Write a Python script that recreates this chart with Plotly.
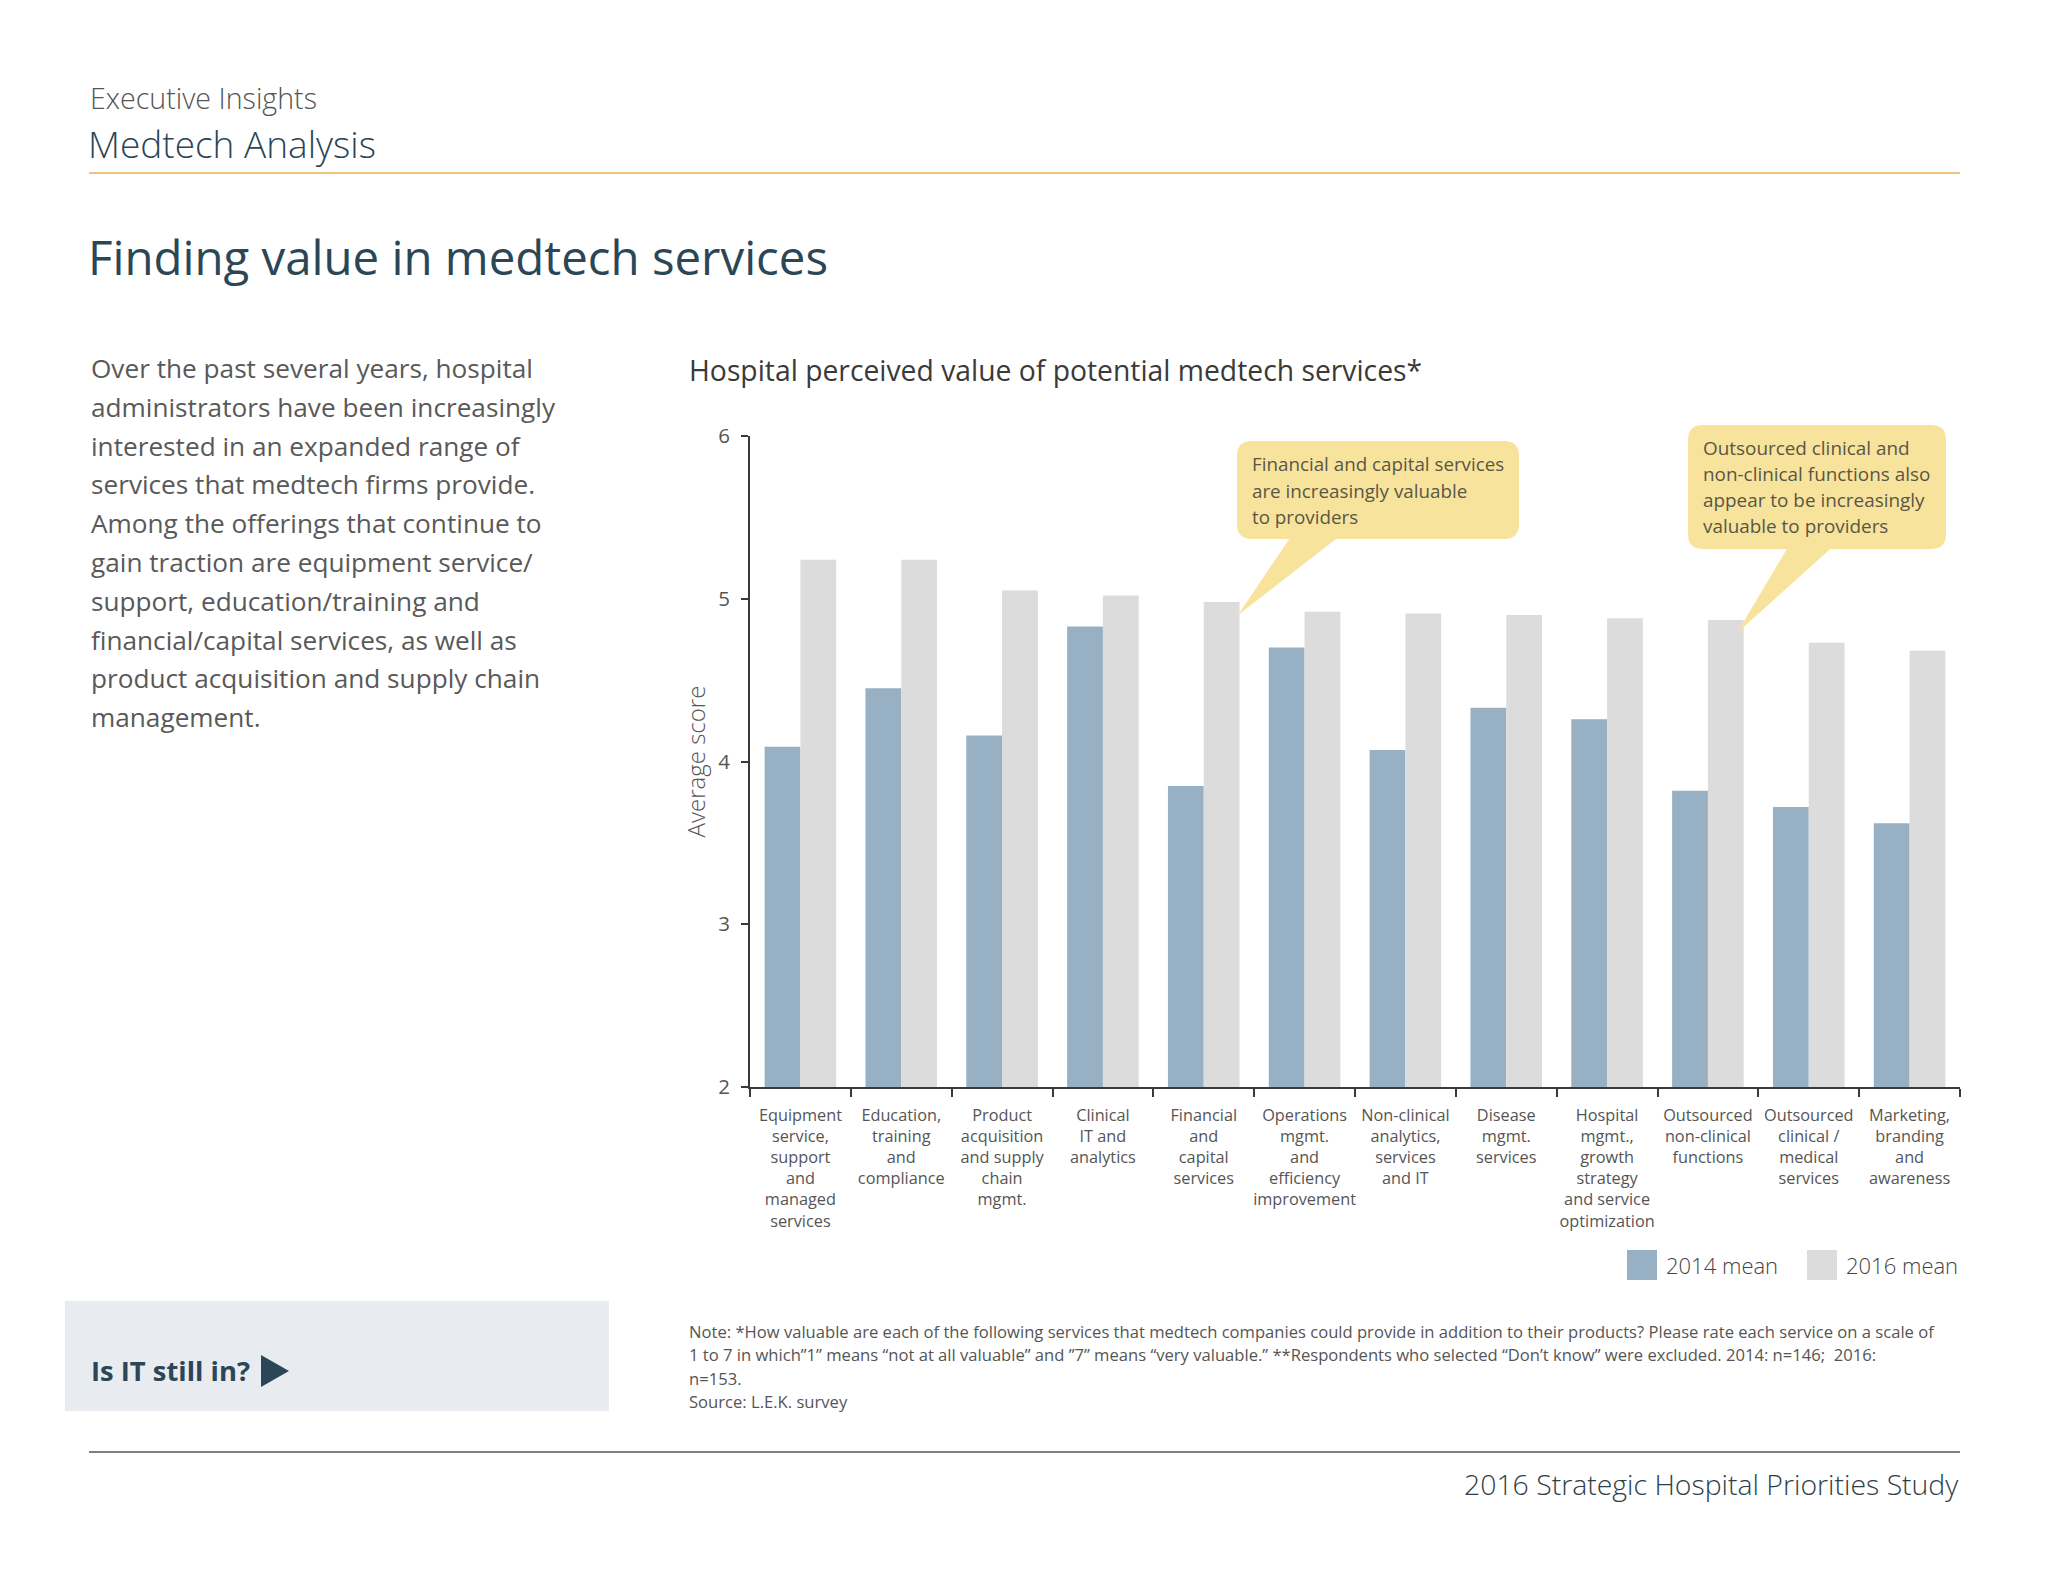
import plotly.graph_objects as go

# ---------------- data ----------------
categories = [
    "Equipment<br>service,<br>support<br>and<br>managed<br>services",
    "Education,<br>training<br>and<br>compliance",
    "Product<br>acquisition<br>and supply<br>chain<br>mgmt.",
    "Clinical<br>IT and<br>analytics",
    "Financial<br>and<br>capital<br>services",
    "Operations<br>mgmt.<br>and<br>efficiency<br>improvement",
    "Non-clinical<br>analytics,<br>services<br>and IT",
    "Disease<br>mgmt.<br>services",
    "Hospital<br>mgmt.,<br>growth<br>strategy<br>and service<br>optimization",
    "Outsourced<br>non-clinical<br>functions",
    "Outsourced<br>clinical /<br>medical<br>services",
    "Marketing,<br>branding<br>and<br>awareness",
]
mean_2014 = [4.09, 4.45, 4.16, 4.83, 3.85, 4.70, 4.07, 4.33, 4.26, 3.82, 3.72, 3.62]
mean_2016 = [5.24, 5.24, 5.05, 5.02, 4.98, 4.92, 4.91, 4.90, 4.88, 4.87, 4.73, 4.68]
series_names = ["2014 mean", "2016 mean"]
y_ticks = [2, 3, 4, 5, 6]

body_lines = [
    "Over the past several years, hospital",
    "administrators have been increasingly",
    "interested in an expanded range of",
    "services that medtech firms provide.",
    "Among the offerings that continue to",
    "gain traction are equipment service/",
    "support, education/training and",
    "financial/capital services, as well as",
    "product acquisition and supply chain",
    "management.",
]
callout1_lines = ["Financial and capital services", "are increasingly valuable", "to providers"]
callout2_lines = ["Outsourced clinical and", "non-clinical functions also",
                  "appear to be increasingly", "valuable to providers"]
note_lines = [
    "Note: *How valuable are each of the following services that medtech companies could provide in addition to their products? Please rate each service on a scale of",
    "1 to 7 in which\u201d1\u201d means \u201cnot at all valuable\u201d and \u201d7\u201d means \u201cvery valuable.\u201d **Respondents who selected \u201cDon\u2019t know\u201d were excluded. 2014: n=146;  2016:",
    "n=153.",
    "Source: L.E.K. survey",
]

# ---------------- style ----------------
OFF = 8                                   # page body margin
W, H = 2048 - OFF, 1582 - OFF
X0, X1, YT, YB = 750, 1960, 436, 1087     # plot area in page pixels
C2014 = "#97b0c3"
C2016 = "#dddcdd"
SLATE = "#2b4656"
GREY = "#555555"
CALLOUT = "#f7e39c"
FONT = "Open Sans"


def px(x):
    return (x - X0) / (X1 - X0)


def py(y):
    return (YB - y) / (YB - YT)


fig = go.Figure()
fig.add_trace(go.Bar(x=categories, y=mean_2014, name=series_names[0],
                     marker=dict(color=C2014, line=dict(width=0)), showlegend=False))
fig.add_trace(go.Bar(x=categories, y=mean_2016, name=series_names[1],
                     marker=dict(color=C2016, line=dict(width=0)), showlegend=False))

annotations = []
shapes = []


def text(x, y, s, size, color=GREY, xanchor="left", yanchor="middle", weight=400, family=FONT):
    annotations.append(dict(x=px(x), y=py(y), xref="paper", yref="paper", text=s,
                            showarrow=False, xanchor=xanchor, yanchor=yanchor,
                            font=dict(size=size, color=color, family=family, weight=weight),
                            borderpad=0))


# header
text(89, 98, "Executive Insights", 28.6, color="#555555", weight=300)
text(87, 143, "Medtech Analysis", 37, color=SLATE, weight=300)
shapes.append(dict(type="line", xref="paper", yref="paper", x0=px(89), x1=px(1960),
                   y0=py(173), y1=py(173), line=dict(color="#f0c27c", width=2)))
text(87, 256, "Finding value in medtech services", 47.4, color=SLATE, weight=400)

# body
for i, line in enumerate(body_lines):
    text(90, 368 + i * 38.8, line, 26.2, color="#595959", weight=400)

# chart title
text(688, 370, "Hospital perceived value of potential medtech services*", 28.3, color="#3a3a3a", weight=500)


# callouts
def rrect_path(x0, y0, x1, y1, r):
    pts = [
        ("M", [(x0 + r, y0)]),
        ("L", [(x1 - r, y0)]), ("Q", [(x1, y0), (x1, y0 + r)]),
        ("L", [(x1, y1 - r)]), ("Q", [(x1, y1), (x1 - r, y1)]),
        ("L", [(x0 + r, y1)]), ("Q", [(x0, y1), (x0, y1 - r)]),
        ("L", [(x0, y0 + r)]), ("Q", [(x0, y0), (x0 + r, y0)]),
    ]
    s = ""
    for cmd, p in pts:
        s += cmd + " ".join(f"{px(a):.5f},{py(b):.5f}" for a, b in p) + " "
    return s + "Z"


def tri_path(p1, p2, p3):
    return "M" + " L".join(f"{px(a):.5f},{py(b):.5f}" for a, b in (p1, p2, p3)) + " Z"


for box, tri in [((1237, 441, 1519, 539), ((1294, 532), (1345, 532), (1238, 615))),
                 ((1688, 425, 1946, 549), ((1791, 542), (1838, 542), (1737, 633)))]:
    shapes.append(dict(type="path", xref="paper", yref="paper", path=rrect_path(*box, 15),
                       fillcolor=CALLOUT, line=dict(width=0), layer="above"))
    shapes.append(dict(type="path", xref="paper", yref="paper", path=tri_path(*tri),
                       fillcolor=CALLOUT, line=dict(width=0), layer="above"))

for i, line in enumerate(callout1_lines):
    text(1251, 464 + i * 26.5, line, 18.8, color="#5a5646")
for i, line in enumerate(callout2_lines):
    text(1702, 448 + i * 26, line, 18.9, color="#5a5646")

# legend (custom squares)
for xs, col, name in [(1627, C2014, series_names[0]), (1807, C2016, series_names[1])]:
    shapes.append(dict(type="rect", xref="paper", yref="paper", x0=px(xs), x1=px(xs + 30),
                       y0=py(1250), y1=py(1280), fillcolor=col, line=dict(width=0)))
    text(xs + 38, 1265, name, 22, color="#444444", weight=300)

# notes
for i, line in enumerate(note_lines):
    text(688, 1331 + i * 23.5, line, 16.6, color=GREY, weight=400)

# "Is IT still in?" box
shapes.append(dict(type="rect", xref="paper", yref="paper", x0=px(65), x1=px(609),
                   y0=py(1301), y1=py(1411), fillcolor="#e8ebf0", line=dict(width=0), layer="below"))
text(90, 1370, "Is IT still in?", 27.4, color=SLATE, weight=700)
shapes.append(dict(type="path", xref="paper", yref="paper",
                   path=tri_path((261, 1355), (261, 1387), (289, 1371)),
                   fillcolor=SLATE, line=dict(width=0)))

# footer
shapes.append(dict(type="line", xref="paper", yref="paper", x0=px(89), x1=px(1960),
                   y0=py(1452), y1=py(1452), line=dict(color="#555555", width=1.5)))
text(1960, 1484, "2016 Strategic Hospital Priorities Study", 28.4, color="#2e3e48",
     xanchor="right", weight=300)

fig.update_layout(
    width=W, height=H,
    margin=dict(l=X0 - OFF, r=W - (X1 - OFF), t=YT - OFF, b=H - (YB - OFF), pad=0),
    paper_bgcolor="white", plot_bgcolor="white",
    barmode="group", bargap=0.29, bargroupgap=0,
    font=dict(family=FONT, color=GREY),
    annotations=annotations, shapes=shapes,
    showlegend=False,
)
fig.update_xaxes(
    showline=True, linecolor="#3a3a3a", linewidth=2,
    ticks="outside", tickson="boundaries", ticklen=8, tickwidth=2, tickcolor="#3a3a3a",
    tickfont=dict(size=16.3, color="#555555", family=FONT, weight=400), tickangle=0,
    ticklabelstandoff=12,
    showgrid=False, zeroline=False, fixedrange=True,
)
fig.update_yaxes(
    range=[2, 6], tickvals=y_ticks, showline=True, linecolor="#3a3a3a", linewidth=2,
    ticks="outside", ticklen=7, tickwidth=2, tickcolor="#3a3a3a",
    tickfont=dict(size=20.5, color="#555555", family=FONT, weight=400),
    ticklabelstandoff=7,
    showgrid=False, zeroline=False,
    title=dict(text="Average score", font=dict(size=24, color="#555555", family=FONT, weight=300), standoff=6),
)

fig.write_html("out.html")
